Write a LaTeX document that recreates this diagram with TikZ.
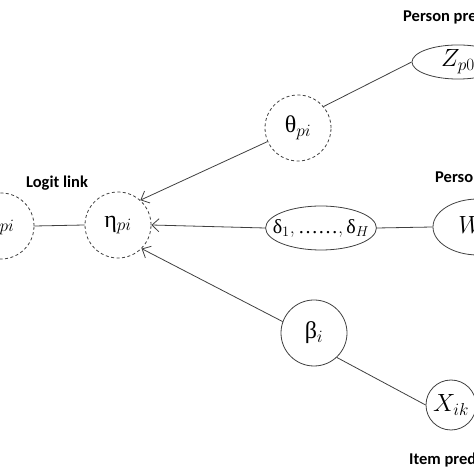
\documentclass[tikz,border=0pt]{standalone}
\usepackage{fontspec}
\usepackage{amsmath}
\newfontfamily\grk{Liberation Serif}
\newfontfamily\lbl{Carlito}
\usetikzlibrary{shapes.geometric,arrows.meta}

\tikzset{
  var/.style={circle,draw=black!75,line width=0.8pt,minimum size=66pt,inner sep=0pt,font=\fontsize{24}{28}\selectfont},
  latent/.style={var,dashed,dash pattern=on 3pt off 2.5pt},
  pred/.style={ellipse,draw=black!75,line width=0.8pt,inner sep=0pt,font=\fontsize{24}{28}\selectfont},
  tag/.style={font=\lbl\bfseries\fontsize{16.5}{19}\selectfont,inner sep=0pt},
  link/.style={draw=black!75,line width=0.8pt},
  >={Straight Barb[length=7pt,width=13pt,line width=0.8pt]}
}

\begin{document}
\begin{tikzpicture}[x=1pt,y=1pt]
            \useasboundingbox (0,0) rectangle (474,474);
            \clip (0,0) rectangle (474,474);

            % 中心节点
            \node[latent] (pi) at (1,248) {{\grk π}$_{pi}$};
            \node[latent] (eta) at (118,249) {{\grk η}$_{pi}$};
            \node[tag] (logit) at (57,291) {Logit link};

            % 人员
            \node[latent] (theta) at (298,346) {{\grk θ}$_{pi}$};
            \node[pred,minimum width=92pt,minimum height=30pt] (Z) at (458,412) {$Z_{p0}$};
            \node[tag,anchor=west] (ptag) at (403,457) {Person predictors};

            % 交互
            \node[pred,inner xsep=-9pt,minimum width=108pt,minimum height=44pt,font=\fontsize{20}{24}\selectfont] (delta) at (321,246) {{\grk δ}$_1$,\,{\grk ……},\,{\grk δ}$_H$};
            \node[pred,minimum width=90pt,minimum height=56pt] (W) at (478,247) {$W_{ih}$};
            \node[tag,anchor=west] (wtag) at (435,296) {Person-by-item predictors};

            % 项目
            \node[var] (beta) at (314,141) {{\grk β}$_i$};
            \node[var,minimum size=50pt] (X) at (451,69) {$X_{ik}$};
            \node[tag,anchor=west] (itag) at (409,14) {Item predictors};

            % 连线
            \draw[link] (pi.east) -- (eta.west);
            \draw[link,->] (theta.204) -- (eta.48);
            \draw[link,->] (delta.west) -- (eta.east);
            \draw[link,->] (beta.160) -- (eta.-45);
            \draw[link] (theta.40) -- (Z.west);
            \draw[link] (delta.east) -- (W.west);
            \draw[link] (beta.-47) -- (X.west);
\end{tikzpicture}
\end{document}
